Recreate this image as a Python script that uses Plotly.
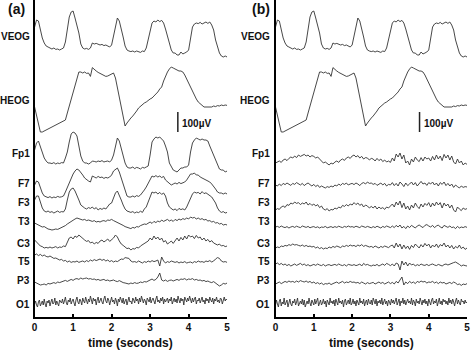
import numpy as np
import plotly.graph_objects as go

# ---------------- data (microvolts, evenly sampled from 0 to 5 s) ----------------
TICKS = [0, 1, 2, 3, 4, 5]
CHANNELS = ["VEOG", "HEOG", "Fp1", "F7", "F3", "T3", "C3", "T5", "P3", "O1"]
SCALE_UV = 100

VEOG = [115, 150, 145, 95, 60, 35, 20, 15, 8, 5, 10, 3, 5, 0, 5, 10, 40, 115, 165, 190,
        195, 160, 125, 85, 30, 10, 5, 8, 3, 10, 35, 30, 33, 28, 25, 28, 22, 25, 18, 15,
        25, 75, 125, 160, 145, 110, 65, 20, 0, -5, -8, -5, -10, -5, -8, -12, -5, -8, 10, 50,
        100, 135, 145, 140, 150, 142, 148, 135, 105, 65, 25, 0, -15, -15, -25, -25, -10, -20, -15, -10,
        0, 70, 115, 130, 135, 132, 138, 130, 135, 140, 133, 140, 125, 100, 50, 10, -15, -30, -35, -30, -35]

HEOG = [-35, -75, -120, -160, -160, -155, -150, -145, -140, -135, -130, -125, -122, -115, -110, -105, -100, -65, -30, 0,
        35, 70, 105, 140, 140, 135, 140, 133, 135, 118, 162, 152, 145, 138, 132, 126, 120, 118, 120, 124,
        128, 135, 110, 60, 10, -40, -95, -130, -115, -100, -90, -80, -70, -55, -40, -30, -20, -15, -10, 0,
        5, 10, 20, 25, 40, 55, 65, 95, 120, 140, 155, 165, 160, 155, 150, 145, 145, 140, 125, 105,
        85, 65, 45, 20, 5, -10, -20, -30, -35, -35, -35, -32, -35, -30, -33, -28, -30, -25, -28, -25, -27]

# ---- panel (a): raw EEG ----
FP1_A = [65, 100, 110, 80, 50, 25, 10, 0, 0, -3, 2, -5, 0, -3, 2, 0, 25, 55, 105, 145,
         155, 150, 135, 75, 35, 10, 0, 0, -5, 0, 10, 8, 5, 10, 7, 12, 5, 8, 10, 5,
         15, 40, 85, 125, 110, 75, 35, 0, -20, -25, -25, -20, -28, -22, -25, -30, -22, -25, -20, -15,
         40, 105, 120, 130, 125, 130, 120, 110, 85, 55, 0, -20, -35, -40, -45, -35, -25, -25, -20, -20,
         -10, 55, 100, 115, 125, 120, 115, 120, 115, 115, 110, 85, 60, 40, 10, -15, -30, -35, -35, -45, -40]

F7_A = [25, 45, 40, 10, -15, -30, -35, -38, -33, -40, -35, -38, -32, -36, -34, -30, -10, 15, 40, 60,
        80, 95, 105, 100, 90, 75, 60, 50, 45, 40, 70, 65, 60, 68, 62, 65, 58, 63, 60, 65,
        75, 95, 105, 110, 90, 60, 25, -10, -30, -35, -35, -30, -35, -28, -32, -25, -15, 0, 15, 35,
        55, 70, 65, 72, 65, 70, 62, 68, 50, 40, 30, 25, 30, 35, 30, 38, 32, 35, 40, 50,
        65, 80, 80, 85, 75, 75, 65, 60, 55, 50, 45, 40, 30, 20, 5, -10, -15, -15, -20, -15, -20]

F3_A = [50, 70, 70, 40, 10, -5, -10, -5, -12, -8, -15, -10, -5, -12, -8, -10, 5, 50, 90, 105,
        110, 95, 75, 50, 25, 15, 10, 5, 12, 8, 15, 5, 12, 0, 8, 3, 10, 5, 20, 30,
        35, 60, 85, 95, 75, 50, 25, 5, -5, -10, -12, -8, -15, -10, -13, -6, -12, 5, 15, 40,
        70, 90, 85, 90, 80, 88, 78, 85, 70, 35, 15, 5, 0, 5, -3, 8, 2, 6, 0, 15,
        40, 65, 80, 90, 85, 88, 80, 92, 82, 86, 80, 75, 65, 50, 35, 10, -5, -12, -8, -15, -12]

T3_A = [10, 5, 0, -5, -10, -8, -15, -20, -22, -25, -23, -20, -22, -18, -15, -10, -3, 5, 12, 18,
        25, 30, 35, 32, 28, 25, 28, 22, 25, 20, 18, 22, 15, 18, 15, 20, 22, 18, 25, 23,
        28, 22, 18, 12, 8, 5, -2, -8, -12, -15, -18, -12, -15, -8, -10, -3, 0, 5, 3, 10,
        15, 8, 18, 12, 20, 15, 25, 18, 22, 28, 20, 25, 18, 28, 22, 30, 25, 32, 28, 35,
        30, 40, 35, 38, 30, 35, 28, 32, 25, 28, 20, 22, 15, 18, 10, 12, 5, 8, 0, 3, 0]

C3_A = [15, 5, -5, -15, -18, -25, -22, -25, -20, -25, -22, -18, -25, -20, -22, -15, -18, 0, 25, 30,
        20, 35, 28, 40, 30, 22, 15, 8, 12, 0, 5, -5, 3, -2, 10, 15, 5, 12, 20, 8,
        15, 25, 40, 30, 10, -5, -12, -20, -28, -25, -35, -28, -30, -22, -25, -15, -8, -5, 5, 10,
        25, 15, 35, 20, 30, 15, 25, 5, 12, -5, 2, 10, -2, 15, 25, 10, 28, 15, 35, 20,
        40, 30, 35, 22, 38, 25, 30, 15, 25, 10, 18, 5, 12, 0, -5, -10, -5, -15, -12, -18, -15]

T5_A = [25, 30, 22, 28, 20, 25, 18, 15, 20, 12, 8, 10, 5, 0, 3, -5, -2, -10, -5, -12,
        -8, -10, -5, -12, -8, -5, -10, -3, -8, 0, -5, 2, -3, 0, 5, -2, 3, -5, 0, -8,
        -3, -10, -5, -8, -2, 5, 3, 12, 10, 8, -5, -10, -8, -12, -5, -10, -15, -8, -12, -5,
        -10, -3, -8, -5, 0, -30, 15, -5, -15, -8, -12, -5, -10, -12, -8, -15, -10, -13, -8, -15,
        -12, -10, -15, -8, -12, -5, -10, -8, -12, -5, -8, -3, -10, -5, 5, 12, 8, -5, -10, -8, -12]

P3_A = [-5, -10, -15, -20, -18, -15, -20, -12, -15, -10, -8, -12, -5, -8, -3, 0, 3, -2, 5, 8,
        3, 10, 12, 8, 15, 10, 13, 15, 10, 12, 8, 10, 5, 8, 3, 5, 8, 2, 5, 0,
        3, 5, 0, -3, 2, -5, -8, -10, -12, -15, -10, -13, -8, -12, -10, -5, -8, -3, -5, 0,
        5, 10, 3, 8, 20, 40, 5, 0, 5, -2, 3, 5, 0, 5, 8, 3, 10, 8, 12, 5,
        10, 8, 12, 5, 8, 3, 5, 0, 3, -3, 0, -5, -8, -3, -10, -15, -25, -20, -12, -15, -10]

# O1 is sampled twice as densely (every 0.025 s)
O1_A = [-10, 5, -15, -25, 0, 10, -20, -5, 5, -15, 15, -10, -25, 5, -5, 10, -20, 0, 15, -10,
        -5, 20, -15, 5, -10, -20, 10, 0, -5, 15, -10, 5, 25, -5, -15, 10, 0, 20, -10, 5,
        15, -5, -20, 10, 25, 0, -10, 15, 5, -15, 20, 5, -5, 25, 10, -10, 15, 0, 30, 5,
        -10, 20, 5, 15, -15, 10, 25, -5, 5, 20, 0, -10, 15, 30, 5, -5, 20, 10, -15, 15,
        25, 0, 10, -10, 20, 5, -20, 15, 0, 25, 10, -5, 20, -10, 5, 15, -15, 10, 25, 0,
        5, -10, 20, 10, -5, 25, 5, 15, -10, 20, 0, 30, 10, -5, 15, 5, -15, 20, 10, 0,
        25, -5, 10, 20, 5, -10, 15, 30, 0, 10, -5, 20, 5, 25, -10, 15, 0, 10, 20, -5,
        15, 5, 25, -10, 10, 20, 0, 15, -5, 30, 10, -5, 20, 5, 15, -15, 25, 10, 0, 20,
        5, 30, 10, -5, 20, 0, 15, 25, -10, 10, 5, 20, -5, 15, 25, 0, 10, -10, 20, 5,
        15, -5, 25, 10, 0, 20, -10, 15, 5, 25, 0, 10, -5, 20, 15, -10, 10, 25, 5, 15,
        10]

# ---- panel (b): corrected EEG ----
FP1_B = [-15, -10, -5, -12, 0, 5, -3, 8, 15, 10, 20, 12, 25, 18, 22, 28, 20, 25, 15, 22, 18,
         10, 15, 5, -5, -15, -10, -20, -25, -15, -20,
         -10, -5, -12, 0, 5, -2, 10, 15, 8, 20,
         25, 15, 22, 10, 18, 5, 12, 10, 0, 8,
         5, -5, 8, -3, 5, -8, 0, -10, -5, -12,
         10, -5, 30, 15, 35, 5, 25, -15, -5, -25,
         5, -10, 15, 0, -8, 12, -5, 15, 5, 10,
         -5, 18, 0, 25, 5, 20, -3, 28, 10, 25,
         0, 20, -10, -20, 5, -15, -5, -25, -15, -22]

F7_B = [0, -5, 5, -3, 8, 2, 10, 5, -2, 8, 3, 12, 5, 0, 8, -3, 5, 10, 2, -5, 3,
        -8, 0, -12, -5, -10, -15, -8, -12, -5, -10,
        0, -5, 5, -2, 8, 3, 10, 0, 5, 8,
        2, 10, 5, -3, 8, 12, 5, 15, 8, 10,
        3, 8, -2, 5, 10, 0, 8, -5, 3, 0,
        12, -3, 8, -5, 15, 5, -8, 10, -3, 5,
        15, 0, 12, -5, 8, 18, 5, 10, -2, 12,
        5, 15, 0, 10, -5, 12, 3, 15, -3, 8,
        -5, 5, -12, 0, -8, -15, -5, -12, -8, -10]

F3_B = [-15, -8, -12, 0, 5, -2, 12, 8, 20, 15, 25, 18, 22, 12, 20, 15, 25, 10, 18, 8, 15,
        5, 12, -3, 5, -10, -15, -8, -20, -12, -15,
        -5, -10, 0, -5, 8, 3, 12, 5, 15, 10,
        22, 12, 20, 8, 15, 0, 10, 5, -5, 3,
        -5, 5, -10, 0, -8, -3, -12, 0, -5, 5,
        15, 0, 25, 10, 30, -3, 20, -10, 5, -15,
        10, -5, 20, 3, -8, 15, 0, 18, 8, 22,
        0, 20, 5, 25, 10, 22, -5, 20, 5, 15,
        -5, 10, -15, -25, 0, -10, -18, -5, -12, -8]

T3_B = [0, 3, -2, 5, 0, -3, 2, -5, 0, 3, -2, 4, 0, -3, 5, 2, -2, 3, -4, 0, 2,
        -3, 1, -5, 0, -2, 3, -4, 0, 2, -3,
        2, -2, 4, 0, -3, 3, -1, 5, 0, 2,
        -2, 4, 0, -3, 5, 1, -2, 3, 0, -4,
        2, -3, 4, 0, -5, 3, -2, 5, 0, -3,
        5, -3, 8, 0, 10, -5, 3, -8, 5, -3,
        8, 0, -5, 5, 10, 3, -3, 8, 12, 5,
        0, 8, -3, 5, 10, 0, -5, 8, 3, -2,
        5, -3, 0, -8, 3, -5, 0, -3, 2, -2]

C3_B = [-5, 0, -3, 5, 2, 8, 5, 12, 8, 15, 10, 12, 8, 5, 10, 3, 8, 2, 5, 0, 3,
        -5, 0, -8, -3, -10, -5, -8, 0, -5, 3,
        -2, 5, 0, -3, 5, 2, 8, 3, 10, 5,
        8, 2, 10, 5, 12, 3, 8, 5, 0, 3,
        -3, 5, 0, -5, 3, -2, 5, 0, -3, 5,
        10, -5, 20, 0, 15, -10, 10, -8, 5, -12,
        8, -3, 15, 5, -5, 12, 0, 18, 5, 15,
        -5, 10, 0, 15, -3, 12, 5, 20, 0, 10,
        -5, 8, -10, 3, -5, 10, -8, 0, -12, -5]

T5_B = [5, 10, 2, 8, 0, 5, -3, 3, -5, 0, 5, -2, 3, 8, 0, 5, -3, 2, -5, 0, 3,
        -2, 5, 0, -3, 3, -5, 0, 2, -3, 0,
        3, -2, 5, 0, -3, 2, -5, 3, 0, -2,
        2, -3, 0, 5, -5, 8, 0, 3, -2, -5,
        0, -3, 3, -5, 0, 5, -2, 8, 3, -3,
        5, -5, 10, 5, -25, 20, 0, 15, -5, 10,
        0, 5, -5, 2, -3, 5, 0, -2, 3, -3,
        2, 5, 0, -3, 3, 0, -5, 2, 5, 0,
        5, 8, 12, 15, 10, 3, -5, 0, -3, -5]

P3_B = [-5, 0, 5, -3, 2, 8, 3, 10, 5, 8, 3, 10, 5, 12, 8, 5, 10, 3, 8, 0, 5,
        -3, 2, -5, 0, -8, -3, -5, 0, -8, -3,
        0, 5, -2, 3, 8, 0, 5, 2, 8, 3,
        5, 0, 3, -3, 5, 0, -5, 2, -3, 0,
        3, -5, 0, 5, -2, 3, -5, 0, 5, -3,
        3, -5, 8, 0, 15, 30, -10, 5, -3, 8,
        0, 5, -3, 8, 3, 10, 5, 8, 0, 5,
        3, 8, 0, 5, -3, 5, 0, 3, -5, 0,
        3, -3, 5, 0, -8, -5, -12, -5, -8, -3]

O1_B = [-10, 15, -5, -20, 10, 20, -15, 5, -5, 25, -10, 0, 15, -20, 5, 20, -5, -15, 10, 0,
        20, -10, 5, 25, -15, 0, 10, -5, 20, -10, 15, -20, 5, 10, -5, 25, 0, -15, 15, 5,
        -10, 20, -5, 10, 25, -15, 5, 15, -10, 0, 20, -5, 10, -20, 15, 5, -10, 25, 0, 10,
        -5, 15, -15, 20, 5, -10, 25, 0, 10, -5, 15, -20, 10, 20, -10, 5, 15, -5, 25, -10,
        0, 20, -5, 10, -15, 15, 5, -10, 25, 0, 10, -5, 20, -15, 5, 15, -10, 20, 0, -5,
        15, -10, 25, 5, -5, 20, -15, 10, 0, 15, -5, 25, -10, 5, 20, -5, 10, -15, 15, 5,
        -10, 20, 0, 15, -5, 10, 25, -10, 5, 20, -15, 10, 0, 25, -5, 15, -10, 5, 20, 0,
        10, -5, 25, -10, 15, 5, -15, 20, 0, 10, -5, 25, 5, -10, 15, 0, 20, -5, 10, -15,
        20, 5, -10, 15, 25, -5, 10, 0, 20, -15, 5, 25, -5, 10, -10, 20, 5, 15, -5, 10,
        -10, 25, 0, 15, -5, 20, 5, -15, 10, 25, -5, 15, 0, -10, 20, 5, 10, -5, 15, 0,
        5]

DATA_A = {"VEOG": VEOG, "HEOG": HEOG, "Fp1": FP1_A, "F7": F7_A, "F3": F3_A, "T3": T3_A,
          "C3": C3_A, "T5": T5_A, "P3": P3_A, "O1": O1_A}
DATA_B = {"VEOG": VEOG, "HEOG": HEOG, "Fp1": FP1_B, "F7": F7_B, "F3": F3_B, "T3": T3_B,
          "C3": C3_B, "T5": T5_B, "P3": P3_B, "O1": O1_B}

# ---------------- layout (pixels) ----------------
W, H = 474, 350
PLOT_BOTTOM = 317
UV_PER_PX = 5.0
BASE_A = {"VEOG": 50, "HEOG": 100, "Fp1": 163, "F7": 190, "F3": 210, "T3": 225,
          "C3": 243, "T5": 260, "P3": 281, "O1": 302}
BASE_B = {"VEOG": 50, "HEOG": 100, "Fp1": 160, "F7": 185, "F3": 207, "T3": 227,
          "C3": 247, "T5": 265, "P3": 283, "O1": 303}
LABEL_Y = {"VEOG": 36, "HEOG": 100, "Fp1": 154, "F7": 183, "F3": 202, "T3": 222,
           "C3": 243, "T5": 261, "P3": 280, "O1": 304}
PANELS = [
    dict(name="(a)", xa="x", ya="y", xdom=(32, 227), label_right=29, tag_x=3,
         data=DATA_A, base=BASE_A, bar_t=3.72),
    dict(name="(b)", xa="x2", ya="y2", xdom=(276, 470), label_right=272, tag_x=250,
         data=DATA_B, base=BASE_B, bar_t=3.76),
]

FONT = "Arial, Liberation Sans, sans-serif"
LINE = "#333333"

fig = go.Figure()
annotations = []
shapes = []

for p in PANELS:
    for ch in CHANNELS:
        vals = np.asarray(p["data"][ch], dtype=float)
        t = np.linspace(0, 5, len(vals))
        y = -p["base"][ch] * UV_PER_PX + vals
        fig.add_trace(go.Scatter(x=t, y=y, mode="lines", xaxis=p["xa"], yaxis=p["ya"],
                                 line=dict(color=LINE, width=0.9), showlegend=False,
                                 hoverinfo="skip"))
        annotations.append(dict(text="<b>%s</b>" % ch, xref="paper", yref="paper",
                                x=p["label_right"] / W, y=1 - LABEL_Y[ch] / H,
                                xanchor="right", yanchor="middle", showarrow=False,
                                font=dict(family=FONT, size=10, color="#111")))
    # panel tag
    annotations.append(dict(text="<b>%s</b>" % p["name"], xref="paper", yref="paper",
                            x=p["tag_x"] / W, y=1 - 9 / H, xanchor="left", yanchor="middle",
                            showarrow=False, font=dict(family=FONT, size=14, color="#111")))
    # scale bar 100 uV
    bar_bottom = -132 * UV_PER_PX
    shapes.append(dict(type="line", xref=p["xa"], yref=p["ya"], x0=p["bar_t"], x1=p["bar_t"],
                       y0=bar_bottom, y1=bar_bottom + SCALE_UV,
                       line=dict(color="#222", width=1.5)))
    annotations.append(dict(text="<b>%dµV</b>" % SCALE_UV, xref=p["xa"], yref=p["ya"],
                            x=p["bar_t"] + 0.06, y=bar_bottom + SCALE_UV * 0.45,
                            xanchor="left", yanchor="middle", showarrow=False,
                            font=dict(family=FONT, size=10, color="#111")))
    # axis title
    x0, x1 = p["xdom"]
    annotations.append(dict(text="<b>time (seconds)</b>", xref="paper", yref="paper",
                            x=(x0 + x1) / 2 / W, y=1 - 343 / H, xanchor="center",
                            yanchor="middle", showarrow=False,
                            font=dict(family=FONT, size=12, color="#111")))

axis_common = dict(showgrid=False, zeroline=False, showline=True, linecolor="black",
                   linewidth=2)
layout = dict(width=W, height=H, margin=dict(l=0, r=0, t=0, b=0),
              paper_bgcolor="white", plot_bgcolor="white", showlegend=False,
              annotations=annotations, shapes=shapes)
for i, p in enumerate(PANELS):
    sfx = "" if i == 0 else str(i + 1)
    x0, x1 = p["xdom"]
    layout["xaxis" + sfx] = dict(axis_common, domain=[x0 / W, x1 / W], range=[0, 5],
                                 anchor=p["ya"], ticks="inside", ticklen=3, tickwidth=1.5,
                                 tickcolor="black", tickvals=TICKS,
                                 ticktext=["<b>%d</b>" % v for v in TICKS],
                                 tickfont=dict(family=FONT, size=10, color="#111"))
    layout["yaxis" + sfx] = dict(axis_common, domain=[1 - PLOT_BOTTOM / H, 1],
                                 range=[-PLOT_BOTTOM * UV_PER_PX, 0], anchor=p["xa"],
                                 showticklabels=False, ticks="")
fig.update_layout(**layout)
fig.write_html("out.html")
